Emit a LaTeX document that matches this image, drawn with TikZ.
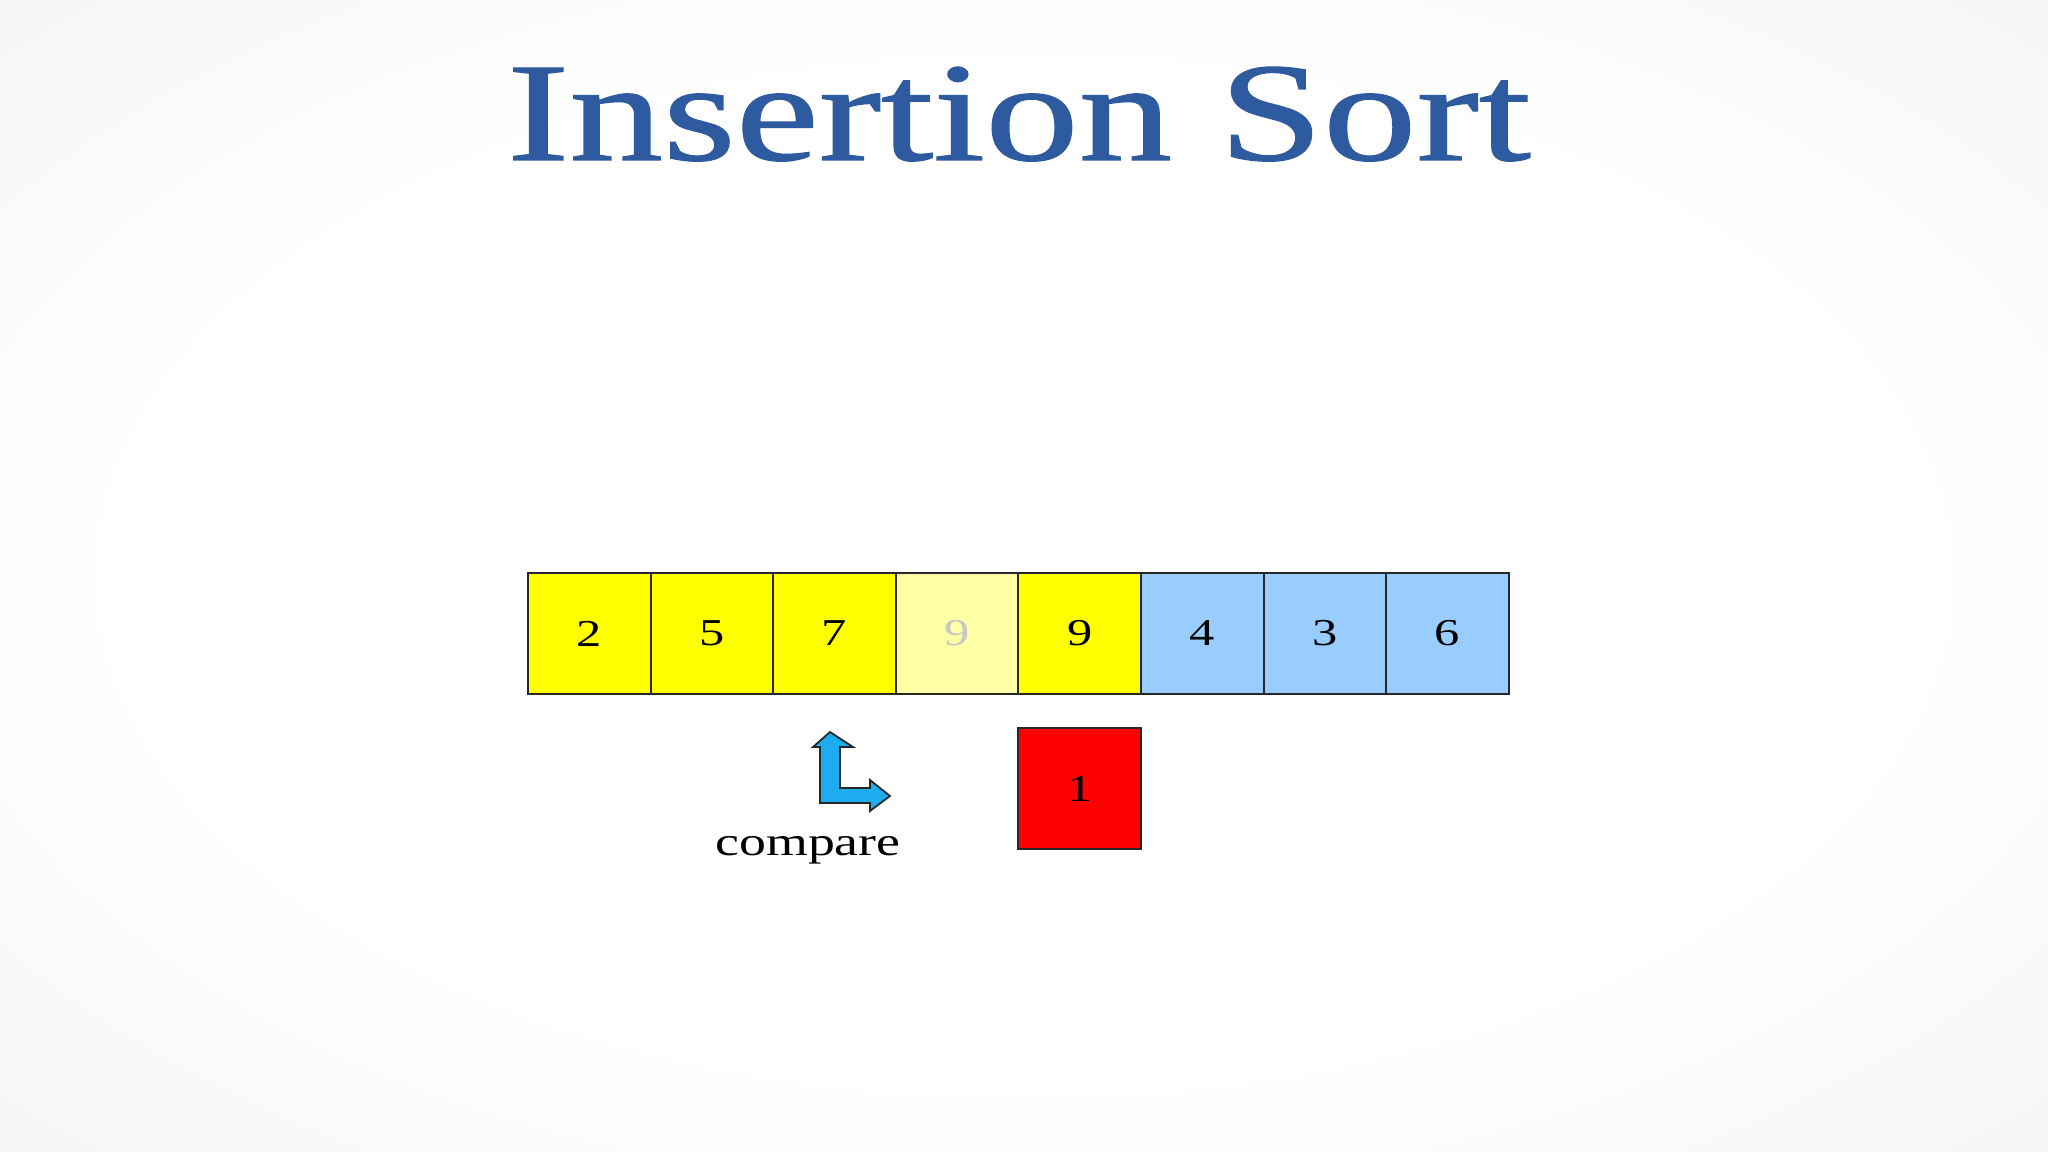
\documentclass[tikz,border=0pt]{standalone}
\usepackage{fontspec}
\setmainfont{Liberation Serif}
\usepackage{graphicx}
\usepackage{tikz}
\usetikzlibrary{positioning}
\usepackage{xcolor}
\definecolor{titolo}{RGB}{46,90,160}
\definecolor{giallo}{RGB}{255,255,0}
\definecolor{giallochiaro}{RGB}{255,255,165}
\definecolor{azzurro}{RGB}{153,204,255}
\definecolor{rosso}{RGB}{255,0,0}
\definecolor{ciano}{RGB}{30,172,240}
\definecolor{bordo}{RGB}{40,40,40}
\newcommand{\largo}[1]{\scalebox{1.33}[1]{#1}}
\def\freccia{(830,732) -- (853,747) -- (840,747) -- (840,788) -- (870,788) -- (870,780) -- (890,796) -- (870,811) -- (870,803) -- (820,803) -- (820,747) -- (813,747) -- cycle}
\pgfdeclareradialshading{sfondo}{\pgfpoint{0bp}{0bp}}{color(0bp)=(white); color(22bp)=(white); color(50bp)=(black!8); color(72bp)=(black!14)}
\tikzset{cella/.style={draw=bordo, line width=0.6pt, minimum width=1.226cm, minimum height=1.21cm, inner sep=0pt, font=\fontsize{10.8}{12}\selectfont}}

\begin{document}
\begin{tikzpicture}[x=0.01cm, y=-0.01cm]
    % Sfondo
    \useasboundingbox (0,0) rectangle (2048,1152);
    \shade[shading=sfondo] (0,0) rectangle (2048,1152);
    % Titolo
    \node[anchor=base, text=titolo, font=\fontsize{40}{44}\selectfont\addfontfeature{FakeBold=0.8}] (titolo) at (1019,160) {\largo{Insertion Sort}};
    % Celle dell'array
    \foreach \val/\col/\txt [count=\i] in {2/giallo/black, 5/giallo/black, 7/giallo/black, 9/giallochiaro/black!22, 9/giallo/black, 4/azzurro/black, 3/azzurro/black, 6/azzurro/black}
        \node[cella, fill=\col, text=\txt] (c\i) at ({589.3+122.6*(\i-1)},633.5) {\largo{\val}};
    % Elemento da inserire
    \node[cella, fill=rosso, below=0.32cm of c5] (chiave) {\largo{1}};
    % Freccia
    \draw[draw=black!85, fill=ciano, line width=0.5pt, line join=miter] \freccia;
    % Etichetta
    \node[anchor=base, font=\fontsize{11.5}{13}\selectfont] (confronto) at (808,855) {\largo{compare}};
\end{tikzpicture}
\end{document}
